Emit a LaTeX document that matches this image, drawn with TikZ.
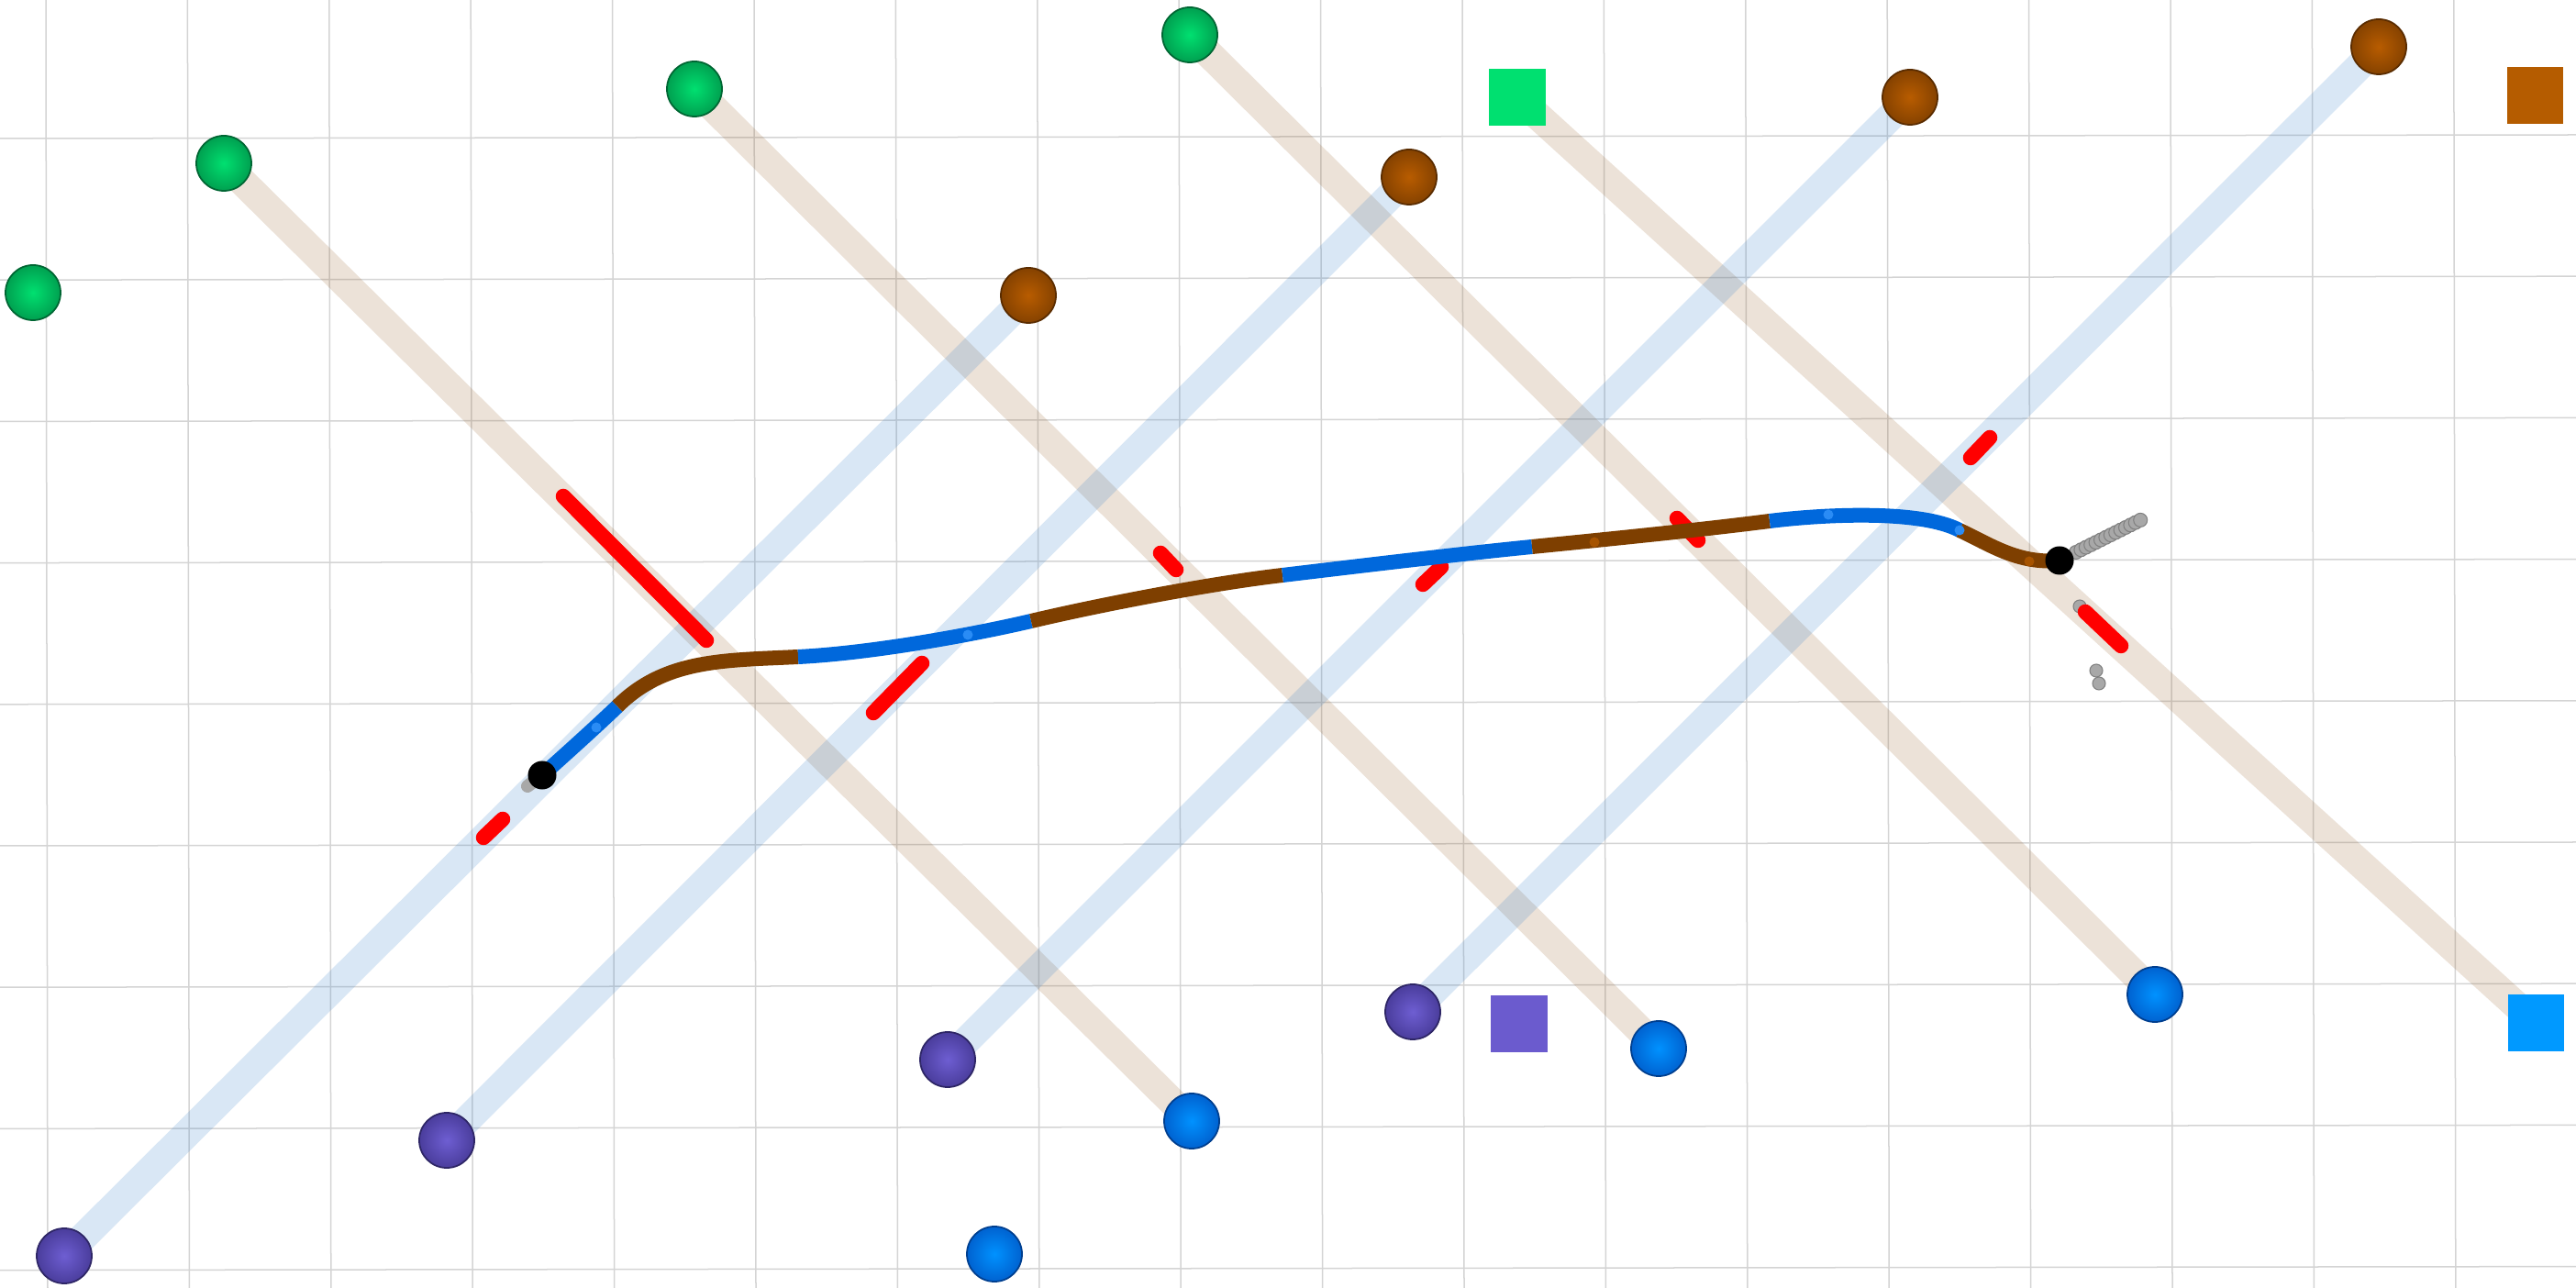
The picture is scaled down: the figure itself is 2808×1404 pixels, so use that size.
\documentclass[tikz,border=0pt]{standalone}
\usetikzlibrary{calc}
\pgfdeclarelayer{gridlayer}
\pgfdeclarelayer{barlayer}
\pgfdeclarelayer{toplayer}
\pgfsetlayers{gridlayer,barlayer,main,toplayer}
\definecolor{gridc}{HTML}{D4D4D4}
\definecolor{tanC}{RGB}{150,95,40}
\definecolor{bbarC}{RGB}{65,135,205}
\definecolor{gIn}{HTML}{00E070}
\definecolor{gOut}{HTML}{00A050}
\definecolor{gLine}{HTML}{006633}
\definecolor{oIn}{HTML}{B85C00}
\definecolor{oOut}{HTML}{854200}
\definecolor{oLine}{HTML}{5A2C00}
\definecolor{pIn}{HTML}{6E5ED2}
\definecolor{pOut}{HTML}{4A3D9C}
\definecolor{pLine}{HTML}{2E2666}
\definecolor{bIn}{HTML}{0092FF}
\definecolor{bOut}{HTML}{0062D0}
\definecolor{bLine}{HTML}{003F8F}
\definecolor{sqGreen}{HTML}{00E070}
\definecolor{sqBrown}{HTML}{B55C00}
\definecolor{sqPurple}{HTML}{6B5BCE}
\definecolor{sqBlue}{HTML}{0099FF}
\definecolor{curveBlue}{HTML}{0068DC}
\definecolor{curveBrown}{HTML}{7E3F00}
\definecolor{dotBlue}{HTML}{2A8CF5}
\definecolor{dotBrown}{HTML}{A65300}
\definecolor{greyC}{HTML}{A8A8A8}
\definecolor{greyLine}{HTML}{808080}
\begin{document}
\begin{tikzpicture}[x=0.01cm,y=-0.01cm,
  gridline/.style={draw=gridc,line width=0.015cm},
  ball/.style={circle,minimum size=0.6cm,inner sep=0pt,line width=0.5pt},
  gball/.style={ball,draw=gLine,inner color=gIn,outer color=gOut},
  oball/.style={ball,draw=oLine,inner color=oIn,outer color=oOut},
  pball/.style={ball,draw=pLine,inner color=pIn,outer color=pOut},
  bball/.style={ball,draw=bLine,inner color=bIn,outer color=bOut},
  sq/.style={rectangle,minimum size=0.61cm,inner sep=0pt},
  tanbar/.style={line width=0.31cm,draw=tanC,draw opacity=0.18},
  bluebar/.style={line width=0.31cm,draw=bbarC,draw opacity=0.2},
  reddash/.style={line width=0.165cm,draw=red,line cap=round},
  cblue/.style={line width=0.16cm,draw=curveBlue},
  cbrown/.style={line width=0.16cm,draw=curveBrown},
  enddot/.style={circle,fill=black,minimum size=0.31cm,inner sep=0pt},
  greyball/.style={fill=greyC,draw=greyLine,line width=0.3pt},
  greystub/.style={line width=0.14cm,draw=greyC,line cap=round}]
\useasboundingbox (0,0) rectangle (2808,1404);
% background and grid
\begin{pgfonlayer}{gridlayer}
\fill[white] (0,0) rectangle (2808,1404);
\foreach \i in {0,...,17} \draw[gridline] ({50+154.4*\i},0) -- ({52+154.4*\i},1404);
\foreach \j in {0,...,8} \draw[gridline] (0,{151+154.2*\j}) -- (2808,{147+154.2*\j});
\end{pgfonlayer}
% balls
\node[gball] (g0) at (36,319) {};
\node[gball] (g1) at (244,178) {};
\node[gball] (g2) at (757,97) {};
\node[gball] (g3) at (1297,38) {};
\node[oball] (o1) at (1121,322) {};
\node[oball] (o2) at (1536,193) {};
\node[oball] (o3) at (2082,106) {};
\node[oball] (o4) at (2593,51) {};
\node[pball] (p1) at (70,1369) {};
\node[pball] (p2) at (487,1243) {};
\node[pball] (p3) at (1033,1155) {};
\node[pball] (p4) at (1540,1103) {};
\node[bball] (b0) at (1084,1367) {};
\node[bball] (b1) at (1299,1222) {};
\node[bball] (b2) at (1808,1143) {};
\node[bball] (b3) at (2349,1084) {};
% squares
\node[sq,fill=sqGreen] (gs) at (1654,106) {};
\node[sq,fill=sqBrown] (os) at (2763,104) {};
\node[sq,fill=sqPurple] (ps) at (1656,1116) {};
\node[sq,fill=sqBlue] (bs) at (2764,1115) {};
% bars
\begin{pgfonlayer}{barlayer}
\draw[tanbar] (g1.center) -- (b1.center);
\draw[tanbar] (g2.center) -- (b2.center);
\draw[tanbar] (g3.center) -- (b3.center);
\draw[tanbar] (gs.center) -- (bs.center);
\draw[bluebar] (p1.center) -- (o1.center);
\draw[bluebar] (p2.center) -- (o2.center);
\draw[bluebar] (p3.center) -- (o3.center);
\draw[bluebar] (p4.center) -- (o4.center);
\end{pgfonlayer}
% end dots
\begin{pgfonlayer}{toplayer}
\node[enddot] (L) at (591,845) {};
\node[enddot] (R) at (2245,611) {};
\end{pgfonlayer}
% red dashes
\draw[reddash] (614,541) -- (770,698);
\draw[reddash] (527,913) -- (548,893);
\draw[reddash] (952,777) -- (1005,723);
\draw[reddash] (1265,603) -- (1282,621);
\draw[reddash] (1551,637) -- (1571,618);
\draw[reddash] (1828,565) -- (1851,589);
\draw[reddash] (2148,499) -- (2169,477);
\fill[greyball] (2267,661) circle (0.07cm);
\draw[reddash] (2273,667) -- (2312,704);
% curve
\coordinate (c1) at (673,770);
\coordinate (c2) at (870,716);
\coordinate (c3) at (1124,677);
\coordinate (c4) at (1398,627);
\coordinate (c5) at (1670,596);
\coordinate (c6) at (1929,568);
\coordinate (c7) at (2136,578);
\draw[greystub] (L.center) -- (575,857);
\draw[cblue] (L.center) .. controls (620,819) and (650,792) .. (c1);
\draw[cbrown] (c1) .. controls (725,718) and (790,720) .. (c2);
\draw[cblue] (c2) .. controls (950,712) and (1060,692) .. (c3);
\draw[cbrown] (c3) .. controls (1200,659) and (1320,636) .. (c4);
\draw[cblue] (c4) .. controls (1490,616) and (1590,604) .. (c5);
\draw[cbrown] (c5) .. controls (1760,587) and (1850,578) .. (c6);
\draw[cblue] (c6) .. controls (1985,561) and (2092,555) .. (c7);
\draw[cbrown] (c7) .. controls (2170,594) and (2200,615) .. (R.center);
% dots on curve
\fill[dotBlue] (650,793) circle (0.055cm);
\fill[dotBlue] (1055,692) circle (0.055cm);
\fill[dotBlue] (1993,561) circle (0.055cm);
\fill[dotBlue] (2136,578) circle (0.055cm);
\fill[dotBrown] (1738,591) circle (0.055cm);
\fill[dotBrown] (2212,612) circle (0.055cm);
% grey stick
\coordinate (Rt) at (2335,566);
\foreach \t in {0.2,0.26,...,1.0} \fill[greyball] ($(R.center)!\t!(Rt)$) circle (0.075cm);
% grey pair
\fill[greyball] (2288,745) circle (0.07cm);
\fill[greyball] (2285,731) circle (0.07cm);
\end{tikzpicture}
\end{document}
